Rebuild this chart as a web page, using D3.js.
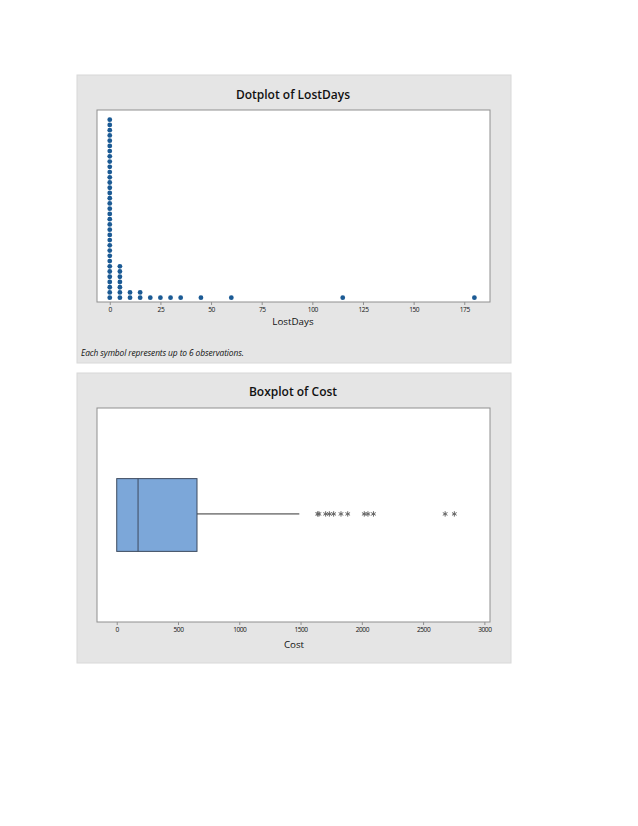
<!DOCTYPE html>
<html>
<head>
<meta charset="utf-8">
<script src="https://cdn.jsdelivr.net/npm/d3@7"></script>
<style>
  html, body { margin: 0; padding: 0; background: #ffffff; }
  svg { display: block; }
  text { font-family: "Open Sans", "Noto Sans", sans-serif; fill: #111; }
</style>
</head>
<body>
<svg id="chart" width="638" height="826"></svg>
<script>
// ---------- Data ----------
const dotValues = [0, 5, 10, 15, 20, 25, 30, 35, 45, 60, 115, 180];
const dotCounts = [35, 7, 2, 2, 1, 1, 1, 1, 1, 1, 1, 1];
const dotTicks = [0, 25, 50, 75, 100, 125, 150, 175];

const costQ1 = 0;
const costMedian = 174;
const costQ3 = 655;
const costWhiskerLow = 0;
const costWhiskerHigh = 1490;
const costOutliers = [1640, 1650, 1705, 1735, 1770, 1830, 1885, 2020, 2050, 2095, 2680, 2755];
const costTicks = [0, 500, 1000, 1500, 2000, 2500, 3000];

const svg = d3.select("#chart");

// ---------- Panel 1: Dotplot ----------
const p1 = { x: 77, y: 75, w: 434, h: 288 };
const f1 = { l: 97, r: 490, t: 110, b: 302 };

svg.append("rect").attr("x", p1.x).attr("y", p1.y).attr("width", p1.w).attr("height", p1.h)
  .attr("fill", "#e5e5e5").attr("stroke", "#d8d8d8");
svg.append("rect").attr("x", f1.l).attr("y", f1.t).attr("width", f1.r - f1.l).attr("height", f1.b - f1.t)
  .attr("fill", "#ffffff").attr("stroke", "#8f8f8f").attr("stroke-width", 1);

const x1 = d3.scaleLinear().domain([-6.3, 187.7]).range([f1.l, f1.r]);
const y1 = d3.scaleLinear().domain([1, 35]).range([297.7, 119.7]);

const dots = [];
dotValues.forEach((v, i) => {
  for (let k = 1; k <= dotCounts[i]; k++) dots.push({ v, k });
});
svg.append("g").selectAll("circle").data(dots).join("circle")
  .attr("cx", d => x1(d.v)).attr("cy", d => y1(d.k)).attr("r", 2.4)
  .attr("fill", "#1b5a94");

const ax1 = svg.append("g").attr("transform", `translate(0,${f1.b})`)
  .call(d3.axisBottom(x1).tickValues(dotTicks).tickFormat(d3.format("d"))
    .tickSize(3).tickPadding(2).tickSizeOuter(0));
ax1.select(".domain").remove();
ax1.selectAll("line").attr("stroke", "#8f8f8f");
ax1.selectAll("text").attr("font-size", "6.6px").attr("letter-spacing", "-0.45px").attr("fill", "#222");

svg.append("text").attr("x", 293).attr("y", 99).attr("text-anchor", "middle")
  .attr("font-size", "12px").attr("font-weight", 600).text("Dotplot of LostDays");
svg.append("text").attr("x", 293).attr("y", 325).attr("text-anchor", "middle")
  .attr("font-size", "9.8px").text("LostDays");
svg.append("text").attr("x", 81).attr("y", 356)
  .attr("font-size", "8.4px").attr("font-style", "italic").attr("font-weight", 400)
  .attr("letter-spacing", "-0.1px").attr("fill", "#333")
  .text("Each symbol represents up to 6 observations.");

// ---------- Panel 2: Boxplot ----------
const p2 = { x: 77, y: 373, w: 434, h: 290 };
const f2 = { l: 97, r: 490, t: 408, b: 622 };

svg.append("rect").attr("x", p2.x).attr("y", p2.y).attr("width", p2.w).attr("height", p2.h)
  .attr("fill", "#e5e5e5").attr("stroke", "#d8d8d8");
svg.append("rect").attr("x", f2.l).attr("y", f2.t).attr("width", f2.r - f2.l).attr("height", f2.b - f2.t)
  .attr("fill", "#ffffff").attr("stroke", "#8f8f8f").attr("stroke-width", 1);

const x2 = d3.scaleLinear().domain([-161, 3046]).range([f2.l, f2.r]);
const y2 = d3.scaleLinear().domain([0, 1]).range([f2.b, f2.t]);
const boxLo = 0.33, boxHi = 0.67, mid = 0.505;

// whisker
svg.append("line")
  .attr("x1", x2(costQ3)).attr("x2", x2(costWhiskerHigh))
  .attr("y1", y2(mid)).attr("y2", y2(mid))
  .attr("stroke", "#333").attr("stroke-width", 1);
if (costWhiskerLow < costQ1) {
  svg.append("line")
    .attr("x1", x2(costWhiskerLow)).attr("x2", x2(costQ1))
    .attr("y1", y2(mid)).attr("y2", y2(mid))
    .attr("stroke", "#333").attr("stroke-width", 1);
}
// box
svg.append("rect")
  .attr("x", x2(costQ1)).attr("y", y2(boxHi))
  .attr("width", x2(costQ3) - x2(costQ1)).attr("height", y2(boxLo) - y2(boxHi))
  .attr("fill", "#7ca7d9").attr("stroke", "#3c4a5e").attr("stroke-width", 1);
svg.append("line")
  .attr("x1", x2(costMedian)).attr("x2", x2(costMedian))
  .attr("y1", y2(boxHi)).attr("y2", y2(boxLo))
  .attr("stroke", "#3c4a5e").attr("stroke-width", 1);

// outliers (asterisks)
const star = d3.symbol().type(d3.symbolAsterisk).size(20);
svg.append("g").selectAll("path").data(costOutliers).join("path")
  .attr("d", star)
  .attr("transform", d => `translate(${x2(d)},${y2(mid)})`)
  .attr("fill", "none").attr("stroke", "#666").attr("stroke-width", 1);

const ax2 = svg.append("g").attr("transform", `translate(0,${f2.b})`)
  .call(d3.axisBottom(x2).tickValues(costTicks).tickFormat(d3.format("d"))
    .tickSize(3).tickPadding(2).tickSizeOuter(0));
ax2.select(".domain").remove();
ax2.selectAll("line").attr("stroke", "#8f8f8f");
ax2.selectAll("text").attr("font-size", "6.6px").attr("letter-spacing", "-0.45px").attr("fill", "#222");

svg.append("text").attr("x", 293).attr("y", 396).attr("text-anchor", "middle")
  .attr("font-size", "12px").attr("font-weight", 600).text("Boxplot of Cost");
svg.append("text").attr("x", 294).attr("y", 648).attr("text-anchor", "middle")
  .attr("font-size", "9.8px").text("Cost");
</script>
</body>
</html>
